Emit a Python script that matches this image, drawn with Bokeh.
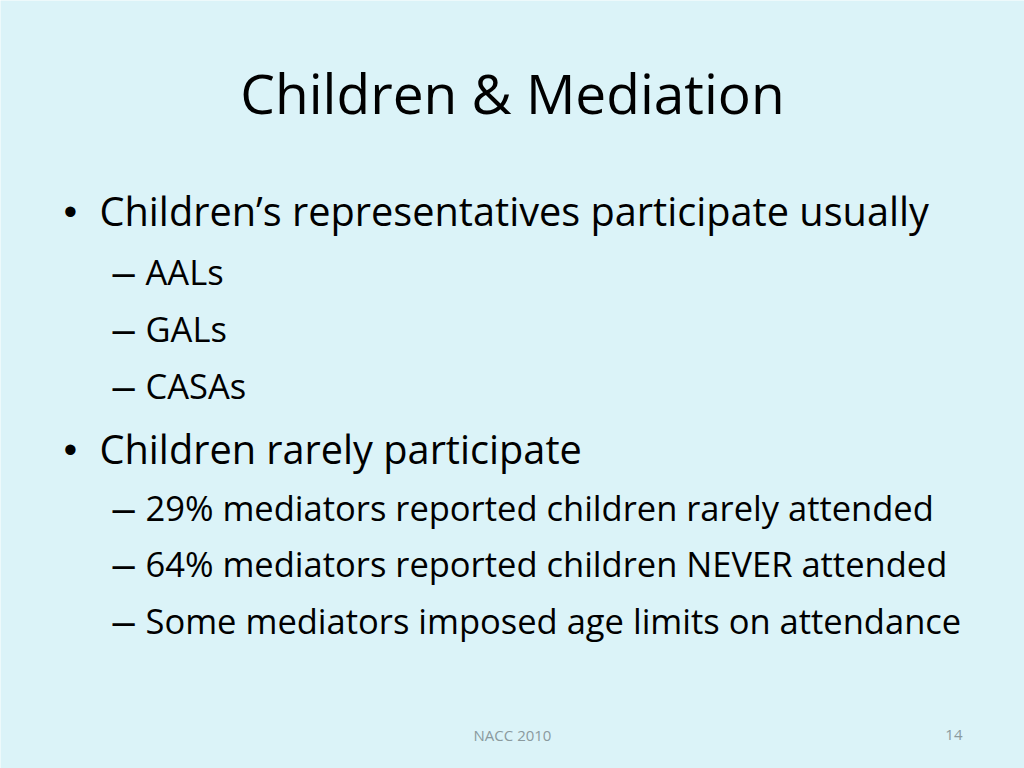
from bokeh.plotting import figure
from bokeh.models import Range1d
from bokeh.core.properties import value
from bokeh.embed import file_html
from bokeh.resources import INLINE

# ---- content ----
title_text = "Children & Mediation"
bullet_texts = ["Children’s representatives participate usually",
                "Children rarely participate"]
sub_texts_1 = ["AALs", "GALs", "CASAs"]
sub_texts_2 = ["29% mediators reported children rarely attended",
               "64% mediators reported children NEVER attended",
               "Some mediators imposed age limits on attendance"]
footer_text = "NACC 2010"
page_number = "14"

# ---- layout (screen pixel coordinates) ----
FONT = "Open Sans"
MARK_FONT = "Liberation Sans"
BG = "#DBF3F8"
W, H = 1024, 768
SHIFT = 0.44  # baseline compensation (fraction of font size)

p = figure(width=W, height=H, output_backend="svg", toolbar_location=None,
           x_range=Range1d(0, W), y_range=Range1d(H, 0),
           min_border=0, background_fill_color=BG, border_fill_color=BG)
p.axis.visible = False
p.grid.visible = False
p.outline_line_color = None

def txt(x, baseline, s, size, align="left", color="#000000", font=FONT):
    p.text(x=[x], y=[baseline - SHIFT * size], text=[s], text_font=value(font),
           text_font_size=f"{size}px", text_color=color,
           text_align=align, text_baseline="alphabetic")

txt(512, 116, title_text, 55, align="center")

rows = [(bullet_texts[0], 0)] + [(s, 1) for s in sub_texts_1] + \
       [(bullet_texts[1], 0)] + [(s, 1) for s in sub_texts_2]
baselines = [228, 286, 343, 400, 466, 522, 578, 635]
for (s, lvl), yb in zip(rows, baselines):
    if lvl == 0:
        txt(70, yb, "•", 38, align="center", font=MARK_FONT)
        txt(99, yb, s, 39.7)
    else:
        txt(123, yb + 3, "–", 40, align="center", font=MARK_FONT)
        txt(145, yb, s, 34.5)

txt(512, 741, footer_text, 15, align="center", color="#8A9A9E")
txt(962, 741, page_number, 15, align="right", color="#8A9A9E")

open("out.html", "w").write(file_html(p, INLINE))
